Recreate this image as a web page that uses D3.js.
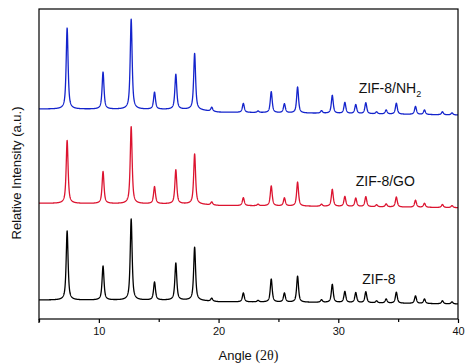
<!DOCTYPE html>
<html>
<head>
<meta charset="utf-8">
<script src="https://cdn.jsdelivr.net/npm/d3@7"></script>
<style>
	body { margin: 0; background: #fff; }
	svg { display: block; font-family: 'Liberation Sans', Arial, sans-serif; }
</style>
</head>
<body>
<svg id="chart" width="474" height="364"></svg>
<script>
// peak positions (2theta) shared by the three patterns
var peakAngles = [7.35, 10.35, 12.7, 14.65, 16.43, 18.0, 19.43, 22.07, 23.3, 24.4, 25.5, 26.6, 28.6, 29.5, 30.55, 31.46, 32.3, 33.2, 34.0, 34.85, 36.45, 37.2, 38.7, 39.5];

// peak heights above the baseline, per sample (a.u.)
var zif8Peaks = [690, 340, 810, 180, 370, 530, 30, 90, 15, 230, 90, 260, 25, 180, 110, 100, 110, 20, 40, 110, 75, 45, 30, 20];
var goPeaks   = [630, 320, 770, 170, 340, 500, 30, 80, 15, 200, 80, 240, 20, 170, 100, 85, 100, 20, 30, 100, 70, 40, 30, 20];
var nh2Peaks  = [810, 370, 900, 170, 350, 560, 40, 90, 15, 210, 90, 260, 25, 180, 110, 90, 110, 20, 40, 110, 80, 45, 30, 20];

// baselines (offset + drift) read at a few angles
var baseAngles = [5, 18, 20, 30, 40];
var zif8Base = [190, 188, 172, 165, 150];
var goBase   = [1157, 1150, 1135, 1125, 1113];
var nh2Base  = [2100, 2095, 2068, 2055, 2040];

var sampleNames = ['ZIF-8', 'ZIF-8/GO', 'ZIF-8/NH2'];
var sampleColors = ['#000000', '#dc1430', '#1424cc'];
// label anchor in data units (angle, intensity)
var labelAngles = [32.0, 31.46, 31.7];
var labelLevels = [350, 1330, 2260];

var xTicks = [10, 20, 30, 40];
var xMinorTicks = [5, 15, 25, 35];

var margin = {left: 39, right: 16, top: 9, bottom: 45},
	width = 474 - margin.left - margin.right,
	height = 364 - margin.top - margin.bottom;

var svg = d3.select('#chart');
var g = svg.append('g').attr('transform', 'translate(' + margin.left + ',' + margin.top + ')');

var x = d3.scaleLinear().domain([5, 40]).range([0, width]);
var y = d3.scaleLinear().domain([0, 3100]).range([height, 0]);

// peak shape: pseudo-voigt, hwhm in degrees
var hw = 0.095, eta = 0.75;
function profile(a, peaks) {
	var s = 0, i, d;
	for (i = 0; i < peakAngles.length; i = i + 1) {
		d = (a - peakAngles[i]) / hw;
		s += peaks[i] * (eta / (1 + d * d) + (1 - eta) * Math.exp(-Math.LN2 * d * d));
	}
	return s;
}

var series = [
	{peaks: zif8Peaks, base: zif8Base},
	{peaks: goPeaks, base: goBase},
	{peaks: nh2Peaks, base: nh2Base}
];

var angles = d3.range(5, 40.0001, 0.01);

var line = d3.line()
	.x(function (d) { return x(d[0]); })
	.y(function (d) { return y(d[1]); });

g.append('defs').append('clipPath').attr('id', 'clip')
	.append('rect').attr('width', width).attr('height', height);

series.forEach(function (s, idx) {
	var baseline = d3.scaleLinear().domain(baseAngles).range(s.base);
	var pts = angles.map(function (a) { return [a, baseline(a) + profile(a, s.peaks)]; });
	g.append('path')
		.attr('clip-path', 'url(#clip)')
		.attr('d', line(pts))
		.style('fill', 'none')
		.style('stroke', sampleColors[idx])
		.style('stroke-width', 1.3)
		.style('stroke-linejoin', 'round');
});

// sample labels
sampleNames.forEach(function (name, idx) {
	var t = g.append('text')
		.attr('x', x(labelAngles[idx]))
		.attr('y', y(labelLevels[idx]))
		.style('font-size', '14px')
		.style('fill', '#111');
	if (name === 'ZIF-8/NH2') {
		t.append('tspan').text('ZIF-8/NH');
		t.append('tspan').attr('dy', 4).style('font-size', '9px').text('2');
	} else {
		t.text(name);
	}
});

// frame
g.append('rect')
	.attr('width', width).attr('height', height)
	.style('fill', 'none').style('stroke', '#000').style('stroke-width', 1.2);

var xAxis = g.append('g').attr('transform', 'translate(0,' + height + ')')
	.call(d3.axisBottom(x).tickValues(xTicks).tickSize(4).tickSizeOuter(0).tickPadding(4));
xAxis.select('.domain').remove();
xAxis.selectAll('line').style('stroke-width', 1.2);
xAxis.selectAll('text').style('font-size', '11px').style('font-family', "'Liberation Sans', Arial, sans-serif").style('fill', '#111');

var minor = g.append('g').attr('transform', 'translate(0,' + height + ')')
	.call(d3.axisBottom(x).tickValues(xMinorTicks).tickSize(3).tickFormat(''));
minor.select('.domain').remove();
minor.selectAll('line').style('stroke-width', 1.2);
g.append('line').attr('x1', 0).attr('x2', 0).attr('y1', height).attr('y2', height + 4)
	.style('stroke', '#000').style('stroke-width', 1.2);

// axis titles
var xt = svg.append('text')
	.attr('x', margin.left + width / 2)
	.attr('y', 360)
	.attr('text-anchor', 'middle')
	.style('font-size', '13px')
	.style('fill', '#111');
xt.append('tspan').text('Angle ');
xt.append('tspan').style('font-family', "'Liberation Serif', 'Times New Roman', serif").style('font-size', '14px').text('(2θ)');

svg.append('text')
	.attr('transform', 'translate(21,' + 173 + ') rotate(-90)')
	.attr('text-anchor', 'middle')
	.style('font-size', '13px')
	.style('fill', '#111')
	.text('Relative Intensity (a.u.)');
</script>
</body>
</html>
